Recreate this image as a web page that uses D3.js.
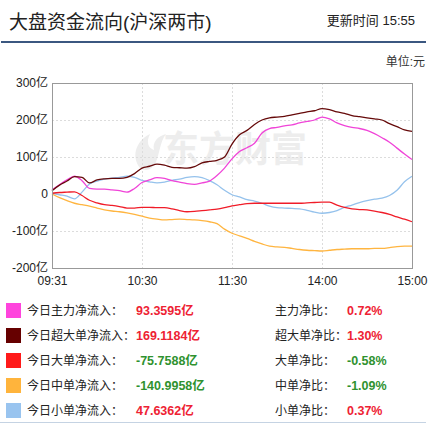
<!DOCTYPE html>
<html>
<head>
<meta charset="utf-8">
<script src="https://cdn.jsdelivr.net/npm/d3@7"></script>
<style>
    body { margin: 0; background: #fff; }
    text { font-family: Arial, "Liberation Sans", "Noto Sans CJK SC", sans-serif; }
</style>
</head>
<body>
<div id="chart"></div>
<script>
// tick labels
const xTickLabels = ['09:31', '10:30', '11:30', '14:00', '15:00'];
const yTickValues = [300, 200, 100, 0, -100, -200];

// series values (亿), one point every ~5 trading minutes
const zhuli = [11, 25, 38, 48, 36, 15, 13, 13, 11, 9, 5, 15, 31, 38, 44, 42, 36, 32, 28, 26, 30, 35, 50, 70, 95, 115, 125, 137, 165, 177, 180, 184, 187, 192, 196, 200, 208, 203, 192, 185, 180, 177, 172, 163, 152, 140, 124, 108, 93];
const chaoda = [9, 24, 35, 47, 45, 30, 38, 41, 42, 42, 45, 55, 70, 75, 81, 78, 72, 71, 70, 74, 84, 88, 91, 100, 135, 160, 172, 188, 200, 206, 208, 210, 214, 218, 222, 225, 231, 228, 222, 218, 212, 209, 206, 203, 200, 190, 182, 173, 169];
const dadan = [2, 4, 5, 6, -4, -17, -24, -29, -31, -34, -38, -38, -36, -36, -37, -37, -40, -45, -48, -47, -45, -43, -41, -37, -32, -29, -26, -25, -25, -25, -25, -25, -25, -25, -24, -23, -22, -22, -30, -36, -40, -42, -43, -46, -50, -55, -62, -68, -75];
const zhongdan = [0, -10, -18, -25, -29, -33, -38, -43, -46, -48, -51, -55, -60, -65, -68, -70, -69, -68, -69, -70, -72, -75, -80, -95, -106, -113, -120, -128, -135, -141, -143, -144, -147, -150, -152, -153, -154, -152, -150, -149, -148, -148, -148, -147, -147, -145, -142, -141, -141];
const xiaodan = [2, -2, -6, -13, 5, 27, 35, 40, 43, 45, 48, 45, 37, 33, 30, 32, 37, 40, 45, 47, 44, 36, 25, 10, -2, -8, -15, -19, -25, -33, -37, -38, -39, -40, -44, -49, -52, -50, -45, -36, -30, -23, -18, -14, -11, -4, 10, 33, 48];

// legend rows
const legendLabels = ['今日主力净流入：', '今日超大单净流入：', '今日大单净流入：', '今日中单净流入：', '今日小单净流入：'];
const legendValues = ['93.3595亿', '169.1184亿', '-75.7588亿', '-140.9958亿', '47.6362亿'];
const ratioLabels = ['主力净比：', '超大单净比：', '大单净比：', '中单净比：', '小单净比：'];
const ratioValues = ['0.72%', '1.30%', '-0.58%', '-1.09%', '0.37%'];

const seriesList = [zhuli, chaoda, dadan, zhongdan, xiaodan];
const colors = ['#f044d8', '#660a0a', '#f01c28', '#ffb540', '#95c2ec'];
const legendColors = ['#ff44dd', '#660000', '#ff1a1a', '#ffb43c', '#99c4ef'];

const width = 435;
const height = 427;
const svg = d3.select('#chart')
    .append('svg')
    .attr('width', width)
    .attr('height', height);

/* Header */
svg.append('text')
    .text('大盘资金流向(沪深两市)')
    .attr('x', 9)
    .attr('y', 29)
    .attr('font-size', 19)
    .attr('fill', '#222');

svg.append('text')
    .text('更新时间 15:55')
    .attr('x', 415)
    .attr('y', 25)
    .attr('text-anchor', 'end')
    .attr('font-size', 13)
    .attr('fill', '#222');

svg.append('rect')
    .attr('x', 1)
    .attr('y', 41)
    .attr('width', 425)
    .attr('height', 2)
    .attr('fill', '#3b5780');

svg.append('text')
    .text('单位:元')
    .attr('x', 425)
    .attr('y', 66)
    .attr('text-anchor', 'end')
    .attr('font-size', 12)
    .attr('fill', '#333');

/* Plot area */
const plotLeft = 52, plotRight = 412, plotTop = 83, plotBottom = 268;

const xScale = d3.scaleLinear()
    .domain([0, zhuli.length - 1])
    .range([plotLeft, plotRight]);

const yScale = d3.scaleLinear()
    .domain([-200, 300])
    .range([plotBottom, plotTop]);

const xTicks = xTickLabels.map((d, i) => i * (zhuli.length - 1) / (xTickLabels.length - 1));

/* watermark */
const wm = svg.append('g').attr('fill', '#ededed');
wm.append('path')
    .attr('d', 'M140,168 C132,158 134,142 150,134 C146,142 148,148 154,150 C152,142 158,136 166,134 C160,142 160,152 156,162 C152,170 146,172 140,168 Z');
wm.append('text')
    .text('东方财富')
    .attr('x', 163)
    .attr('y', 162)
    .attr('font-size', 36)
    .attr('font-weight', 'bold')
    .style('font-family', '"Noto Sans CJK SC", sans-serif');

/* gridlines */
svg.append('g')
    .selectAll('line')
    .data([200, 100, -100])
    .join('line')
    .attr('x1', plotLeft)
    .attr('x2', plotRight)
    .attr('y1', d => yScale(d) + 0.5)
    .attr('y2', d => yScale(d) + 0.5)
    .attr('stroke', '#dcdcdc')
    .attr('stroke-dasharray', '2,2');

svg.append('g')
    .selectAll('line')
    .data(xTicks.slice(1, -1))
    .join('line')
    .attr('x1', d => xScale(d) + 0.5)
    .attr('x2', d => xScale(d) + 0.5)
    .attr('y1', plotTop)
    .attr('y2', plotBottom)
    .attr('stroke', '#dcdcdc')
    .attr('stroke-dasharray', '2,2');

/* y axis labels */
const yAxis = d3.axisLeft(yScale)
    .tickValues(yTickValues)
    .tickSize(0)
    .tickPadding(4)
    .tickFormat(d => d === 0 ? '0' : d + '亿');

svg.append('g')
    .attr('transform', `translate(${plotLeft},0)`)
    .call(yAxis)
    .call(g => g.select('.domain').remove())
    .selectAll('text')
    .attr('font-size', 12)
    .attr('fill', '#222')
    .style('font-family', 'Arial, "Liberation Sans", "Noto Sans CJK SC", sans-serif');

/* x axis labels */
const xAxis = d3.axisBottom(xScale)
    .tickValues(xTicks)
    .tickSize(0)
    .tickPadding(8)
    .tickFormat((d, i) => xTickLabels[i]);

svg.append('g')
    .attr('transform', `translate(0,${plotBottom})`)
    .call(xAxis)
    .call(g => g.select('.domain').remove())
    .selectAll('text')
    .attr('font-size', 12)
    .attr('fill', '#222')
    .style('font-family', 'Arial, "Liberation Sans", sans-serif');

/* lines */
const line = d3.line()
    .x((d, i) => xScale(i))
    .y(d => yScale(d))
    .curve(d3.curveMonotoneX);

// draw order: small first, main last
[4, 3, 2, 0, 1].forEach(k => {
    svg.append('path')
        .datum(seriesList[k])
        .attr('fill', 'none')
        .attr('stroke', colors[k])
        .attr('stroke-width', 1.3)
        .attr('d', line);
});

/* frame */
svg.append('rect')
    .attr('x', plotLeft + 0.5)
    .attr('y', plotTop + 0.5)
    .attr('width', plotRight - plotLeft)
    .attr('height', plotBottom - plotTop)
    .attr('fill', 'none')
    .attr('stroke', '#999');

/* legend */
const rowY = i => 310 + i * 25;

legendLabels.forEach((label, i) => {
    svg.append('rect')
        .attr('x', 6)
        .attr('y', rowY(i) - 7)
        .attr('width', 15)
        .attr('height', 15)
        .attr('fill', legendColors[i]);

    svg.append('text')
        .text(label)
        .attr('x', 27)
        .attr('y', rowY(i) + 5)
        .attr('font-size', 12)
        .attr('fill', '#222')
        .style('font-family', '"Noto Sans CJK SC", sans-serif');

    const neg = legendValues[i].startsWith('-');
    svg.append('text')
        .text(legendValues[i])
        .attr('x', 136)
        .attr('y', rowY(i) + 5)
        .attr('font-size', 12.5)
        .attr('font-weight', 'bold')
        .attr('fill', neg ? '#2f922f' : '#ee2233');

    svg.append('text')
        .text(ratioLabels[i])
        .attr('x', 275)
        .attr('y', rowY(i) + 5)
        .attr('font-size', 12)
        .attr('fill', '#222')
        .style('font-family', '"Noto Sans CJK SC", sans-serif');

    const rneg = ratioValues[i].startsWith('-');
    svg.append('text')
        .text(ratioValues[i])
        .attr('x', 347)
        .attr('y', rowY(i) + 5)
        .attr('font-size', 12.5)
        .attr('font-weight', 'bold')
        .attr('fill', rneg ? '#2f922f' : '#ee2233');
});

svg.append('line')
    .attr('x1', 0)
    .attr('x2', 426)
    .attr('y1', 422.5)
    .attr('y2', 422.5)
    .attr('stroke', '#c5d3e3');
</script>
</body>
</html>
